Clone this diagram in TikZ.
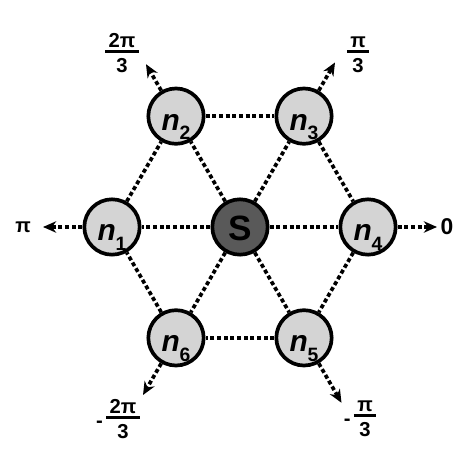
\documentclass[tikz,border=0pt]{standalone}
\usepackage{fontspec}
\setmainfont{Liberation Sans}
\usetikzlibrary{arrows.meta,calc}

\setlength\arrayrulewidth{1.2pt}
\newcommand\frc[2]{\begin{tabular}{@{\,}c@{\,}}#1\\[-2pt]\hline\rule{0pt}{11.5pt}#2\end{tabular}}
\newcommand\nsub[1]{\textit{n}\raisebox{-5.5pt}{\fontsize{11}{12}\selectfont #1}}

\def\hexsep{128}

\begin{document}
\begin{tikzpicture}[x=0.02cm,y=0.02cm,font=\bfseries]
    \tikzstyle{cell}=[circle,draw=black,line width=2.1pt,minimum size=31.5pt,inner sep=0pt,text height=15.9pt,text depth=0pt]
    \tikzstyle{neighbour}=[cell,fill=black!17,font=\fontsize{17}{18}\selectfont\bfseries]
    \tikzstyle{source}=[cell,fill=black!65,font=\fontsize{20}{22}\selectfont\bfseries]
    \tikzstyle{link}=[line width=2.1pt,dash pattern=on 2.3pt off 1.5pt]
    \tikzstyle{dir}=[link,-{Stealth[length=7.5pt,width=6.5pt]}]
    \tikzstyle{phase}=[inner sep=1pt,font=\fontsize{11.5}{12}\selectfont\bfseries]
    \tikzstyle{zero}=[inner sep=1pt,font=\fontsize{13}{14}\selectfont\bfseries]

    \useasboundingbox (0,0) rectangle (474,474);

    % Draw the source node
    \node[source] (S) at (240,247) {S};

    % Draw the neighbours on a hexagon round the source
    \foreach \name/\ang in {1/180,2/120,3/60,4/0,5/-60,6/-120}
        \node[neighbour] (n-\name) at ($(S)+(\ang:\hexsep)$) {\nsub{\name}};

    % Connect each neighbour with the next one
    \foreach \source/\dest in {1/2,2/3,3/4,4/5,5/6,6/1}
        \draw[link] (n-\source) -- (n-\dest);

    % Connect the source with every neighbour
    \foreach \dest in {1,...,6}
        \draw[link] (S) -- (n-\dest);

    % Outward directions
    \foreach \name/\ang/\len in {1/180/69,2/120/60,3/60/62,4/0/69,5/-60/75,6/-120/66} {
        \coordinate (d-\name) at ($(n-\name)+(\ang:\len)$);
        \draw[dir] (n-\name) -- (d-\name);
    }

    % Annotate the directions
    \node[phase] (l-1) at (23,247) {π};
    \node[phase] (l-2) at (122,418) {\frc{2π}{3}};
    \node[phase] (l-3) at (358,418) {\frc{π}{3}};
    \node[zero] (l-4) at (447,247) {0};
    \node[phase] (l-5) at (365,54) {\llap{-\,}\frc{π}{3}};
    \node[phase] (l-6) at (123,52) {\llap{-\,}\frc{2π}{3}};
\end{tikzpicture}
\end{document}
